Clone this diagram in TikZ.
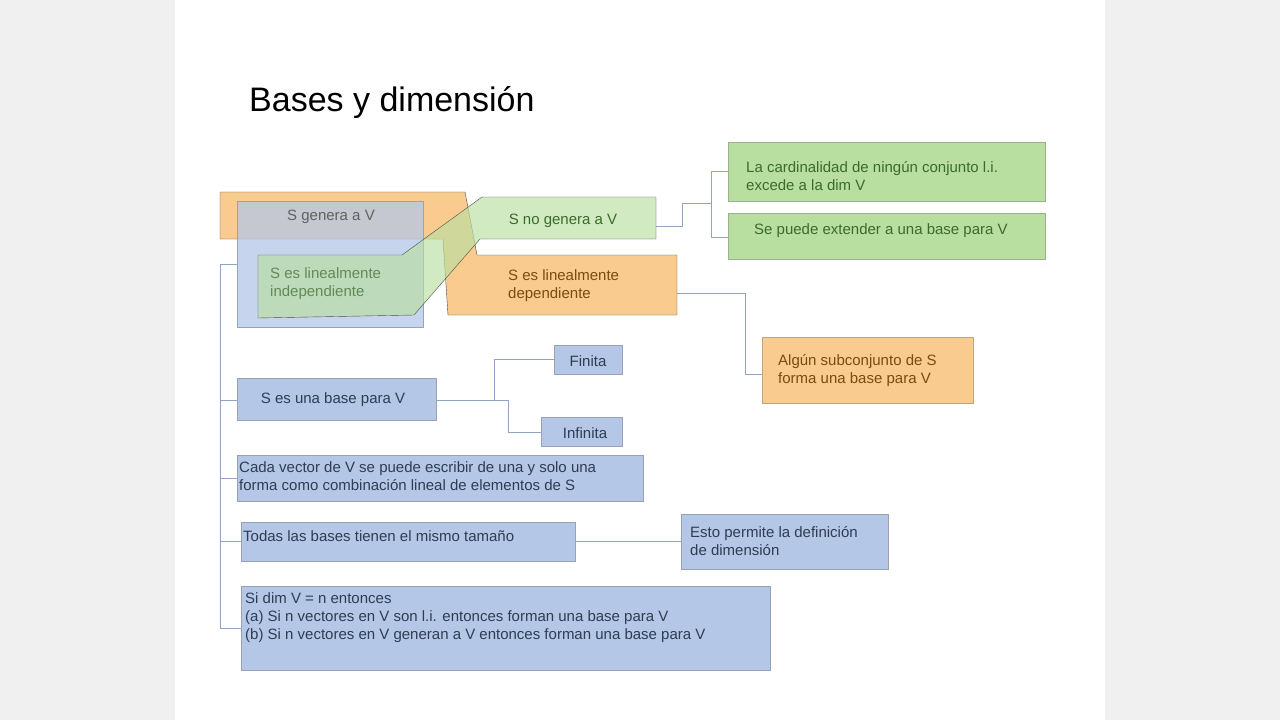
\documentclass[tikz,border=0pt]{standalone}
\usepackage{fontspec}
\setmainfont{Liberation Sans}
\begin{document}
\begin{tikzpicture}[x=1pt,y=-1pt,font=\fontsize{15}{18}\selectfont,
  bx/.style={draw=#1!70!black!80,fill=#1,inner sep=0pt,anchor=north west},
  ln/.style={draw=bline,line width=0.6pt},
  txt/.style={align=left,anchor=west,inner sep=0pt}]
\definecolor{bfill}{HTML}{B4C7E7}
\definecolor{gfill}{HTML}{B9DFA0}
\definecolor{ofill}{HTML}{F9CB8F}
\definecolor{bline}{HTML}{8FA5C2}
\definecolor{btxt}{HTML}{2E3D52}
\definecolor{gtxt}{HTML}{3B6B2C}
\definecolor{otxt}{HTML}{7A4B12}
\useasboundingbox (0,0) rectangle (1280,720);
\fill[gray!12] (0,0) rectangle (1280,720);
\fill[white] (175,0) rectangle (1105,720);
\node[anchor=west,inner sep=0pt,font=\fontsize{34}{40}\selectfont] (title) at (249,103) {Bases y dimensión};
% connectors
\draw[ln] (237,264) -- (220,264) -- (220,628) -- (241,628);
\draw[ln] (220,400) -- (237,400);
\draw[ln] (220,478) -- (237,478);
\draw[ln] (220,541) -- (241,541);
\draw[ln] (656,226) -- (682,226) -- (682,203) -- (711,203);
\draw[ln] (728,171) -- (711,171) -- (711,237) -- (728,237);
\draw[ln] (677,293) -- (745,293) -- (745,374) -- (762,374);
\draw[ln] (436,400) -- (494,400) -- (494,359) -- (554,359);
\draw[ln] (494,400) -- (508,400) -- (508,432) -- (541,432);
\draw[ln] (575,541) -- (681,541);
% overlapping shapes
\filldraw[draw=black!70,fill=ofill] (220,192) -- (465,192) -- (477,255) -- (677,255) -- (677,315) -- (448,315) -- (443,239) -- (220,239) -- cycle;
\filldraw[draw=bline,fill=bfill,fill opacity=0.75] (237,201) rectangle (423,327);
\filldraw[draw=black!70,fill=gfill,fill opacity=0.65,draw opacity=1] (258,255) -- (402,255) -- (482,197) -- (656,197) -- (656,239) -- (480,239) -- (414,315) -- (258,318) -- cycle;
\node[inner sep=0pt,text=gray!75!black] (sg) at (331,217) {S genera a V};
\node[txt,text=gtxt!80] (sli) at (270,284) {S es linealmente\\independiente};
\node[inner sep=0pt,text=gtxt] (sng) at (563,221) {S no genera a V};
\node[txt,text=otxt] (sld) at (508,286) {S es linealmente\\dependiente};
% boxes
\node[bx=gfill,minimum width=317,minimum height=59] (g1) at (728,142) {};
\node[txt,text=gtxt] at (746,176) {La cardinalidad de ningún conjunto l.i.\\excede a la dim V};
\node[bx=gfill,minimum width=317,minimum height=46] (g2) at (728,213) {};
\node[txt,text=gtxt] at (754,231) {Se puede extender a una base para V};
\node[bx=ofill,minimum width=211,minimum height=66] (alg) at (762,337) {};
\node[txt,text=otxt] at (778,371) {Algún subconjunto de S\\forma una base para V};
\node[bx=bfill,minimum width=68,minimum height=29] (fin) at (554,345) {};
\node[text=btxt,inner sep=0pt] at (588,361) {Finita};
\node[bx=bfill,minimum width=81,minimum height=29] (inf) at (541,417) {};
\node[text=btxt,inner sep=0pt] at (585,433) {Infinita};
\node[bx=bfill,minimum width=199,minimum height=42] (base) at (237,378) {};
\node[text=btxt,inner sep=0pt] at (333,400) {S es una base para V};
\node[bx=bfill,minimum width=406,minimum height=46] (cada) at (237,455) {};
\node[txt,text=btxt] at (239,476) {Cada vector de V se puede escribir de una y solo una\\forma como combinación lineal de elementos de S};
\node[bx=bfill,minimum width=334,minimum height=39] (todas) at (241,522) {};
\node[txt,text=btxt] at (243,536) {Todas las bases tienen el mismo tamaño};
\node[bx=bfill,minimum width=207,minimum height=55] (esto) at (681,514) {};
\node[txt,text=btxt] at (690,541) {Esto permite la definición\\de dimensión};
\node[bx=bfill,minimum width=529,minimum height=84] (sidim) at (241,586) {};
\node[txt,text=btxt] at (245,618) {Si dim V = n entonces\\(a) Si n vectores en V son l.i. entonces forman una base para V\\(b) Si n vectores en V generan a V entonces forman una base para V};
\end{tikzpicture}
\end{document}
